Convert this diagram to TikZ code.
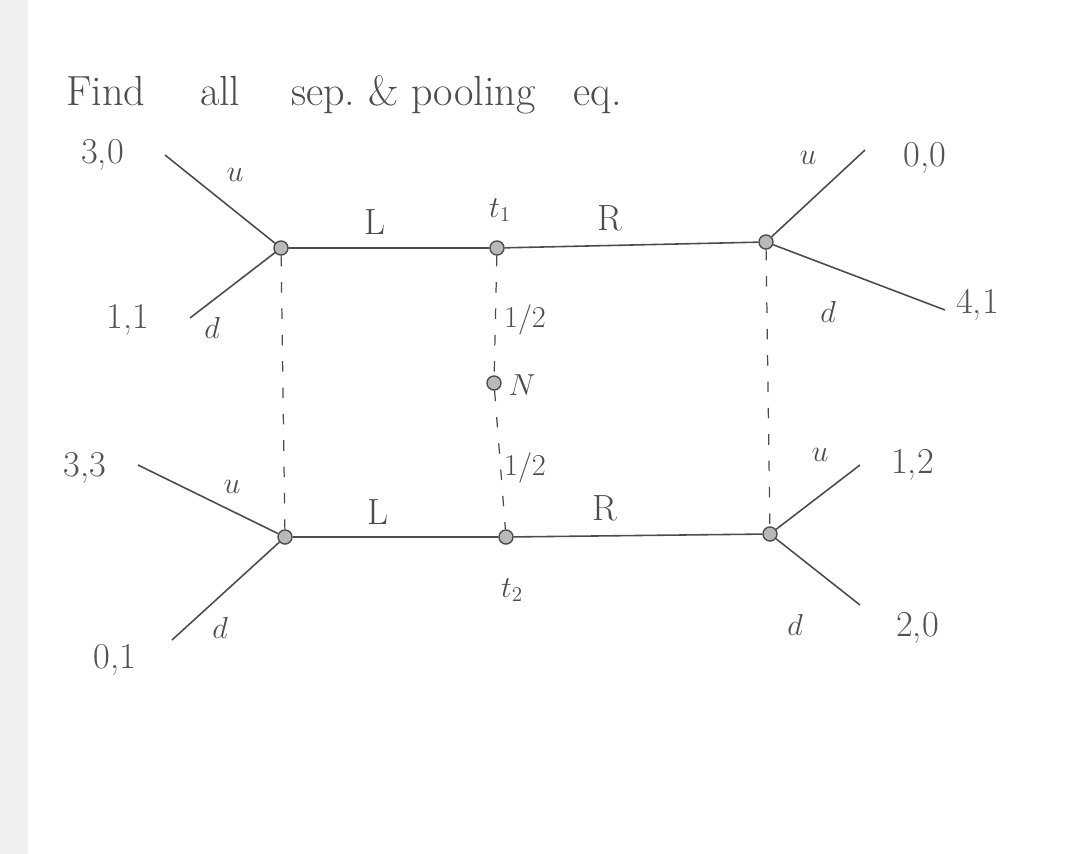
\documentclass[tikz,border=0pt]{standalone}
\usepackage{amsmath}
\usepackage{amssymb}
\usepackage{tikz}

\begin{document}
\begin{tikzpicture}[
  dot/.style={circle,draw=gray!60!black,fill=gray!55,inner sep=0pt,minimum size=8pt,line width=0.8pt},
  branch/.style={draw=gray!60!black,line width=0.9pt},
  info/.style={draw=gray!60!black,line width=0.7pt,dash pattern=on 6pt off 9pt},
  act/.style={text=gray!60!black,font=\LARGE},
  pay/.style={text=gray!65!black,font=\huge}
]
\useasboundingbox (0,0) rectangle (21.52,-17.08);
\fill[gray!12] (0,0) rectangle (0.55,-17.08);

\node[text=gray!60!black,font=\fontsize{24}{28}\selectfont,anchor=west] (title) at (1.2,-1.9)
  {Find\hspace{1.3em}all\hspace{1.2em}sep.\ \& pooling\hspace{0.9em}eq.};

% decision nodes
\node[dot] (tl) at (5.62,-4.96) {};
\node[dot] (t1) at (9.94,-4.96) {};
\node[dot] (tr) at (15.32,-4.84) {};
\node[dot] (N) at (9.88,-7.66) {};
\node[dot] (bl) at (5.70,-10.74) {};
\node[dot] (t2) at (10.12,-10.74) {};
\node[dot] (br) at (15.40,-10.68) {};

% end points
\coordinate (tlu) at (3.30,-3.10);
\coordinate (tld) at (3.80,-6.36);
\coordinate (tru) at (17.30,-3.00);
\coordinate (trd) at (18.90,-6.20);
\coordinate (blu) at (2.76,-9.30);
\coordinate (bld) at (3.44,-12.80);
\coordinate (bru) at (17.20,-9.30);
\coordinate (brd) at (17.20,-12.10);

% payoffs
\node[pay] (p1) at (2.05,-3.10) {3,0};
\node[pay] (p2) at (2.56,-6.40) {1,1};
\node[pay] (p3) at (18.50,-3.16) {0,0};
\node[pay] (p4) at (19.55,-6.10) {4,1};
\node[pay] (p5) at (1.70,-9.36) {3,3};
\node[pay] (p6) at (2.30,-13.20) {0,1};
\node[pay] (p7) at (18.25,-9.30) {1,2};
\node[pay] (p8) at (18.35,-12.56) {2,0};

% branches
\draw[branch] (tl) -- (t1) -- (tr);
\draw[branch] (bl) -- (t2) -- (br);
\draw[branch] (tl) -- (tlu);
\draw[branch] (tl) -- (tld);
\draw[branch] (tr) -- (tru);
\draw[branch] (tr) -- (trd);
\draw[branch] (bl) -- (blu);
\draw[branch] (bl) -- (bld);
\draw[branch] (br) -- (bru);
\draw[branch] (br) -- (brd);

% information sets and nature
\draw[info] (tl) -- (bl);
\draw[info] (tr) -- (br);
\draw[info] (t1) -- (N);
\draw[info] (N) -- (t2);

% labels
\node[act] (a1) at (4.70,-3.50) {$u$};
\node[act] (a2) at (4.24,-6.56) {$d$};
\node[act] (a3) at (16.16,-3.16) {$u$};
\node[act] (a4) at (16.56,-6.24) {$d$};
\node[act] (a5) at (4.64,-9.74) {$u$};
\node[act] (a6) at (4.40,-12.56) {$d$};
\node[act] (a7) at (16.40,-9.10) {$u$};
\node[act] (a8) at (15.90,-12.50) {$d$};
\node[act,font=\huge] (m1) at (7.50,-4.44) {L};
\node[act,font=\huge] (m2) at (12.20,-4.36) {R};
\node[act,font=\huge] (m3) at (7.56,-10.24) {L};
\node[act,font=\huge] (m4) at (12.10,-10.16) {R};
\node[act] (n1) at (10.00,-4.20) {$t_1$};
\node[act] (n2) at (10.24,-11.80) {$t_2$};
\node[act] (q1) at (10.50,-6.40) {1/2};
\node[act] (q2) at (10.50,-9.36) {1/2};
\node[act] (nn) at (10.44,-7.70) {$N$};

\end{tikzpicture}
\end{document}
